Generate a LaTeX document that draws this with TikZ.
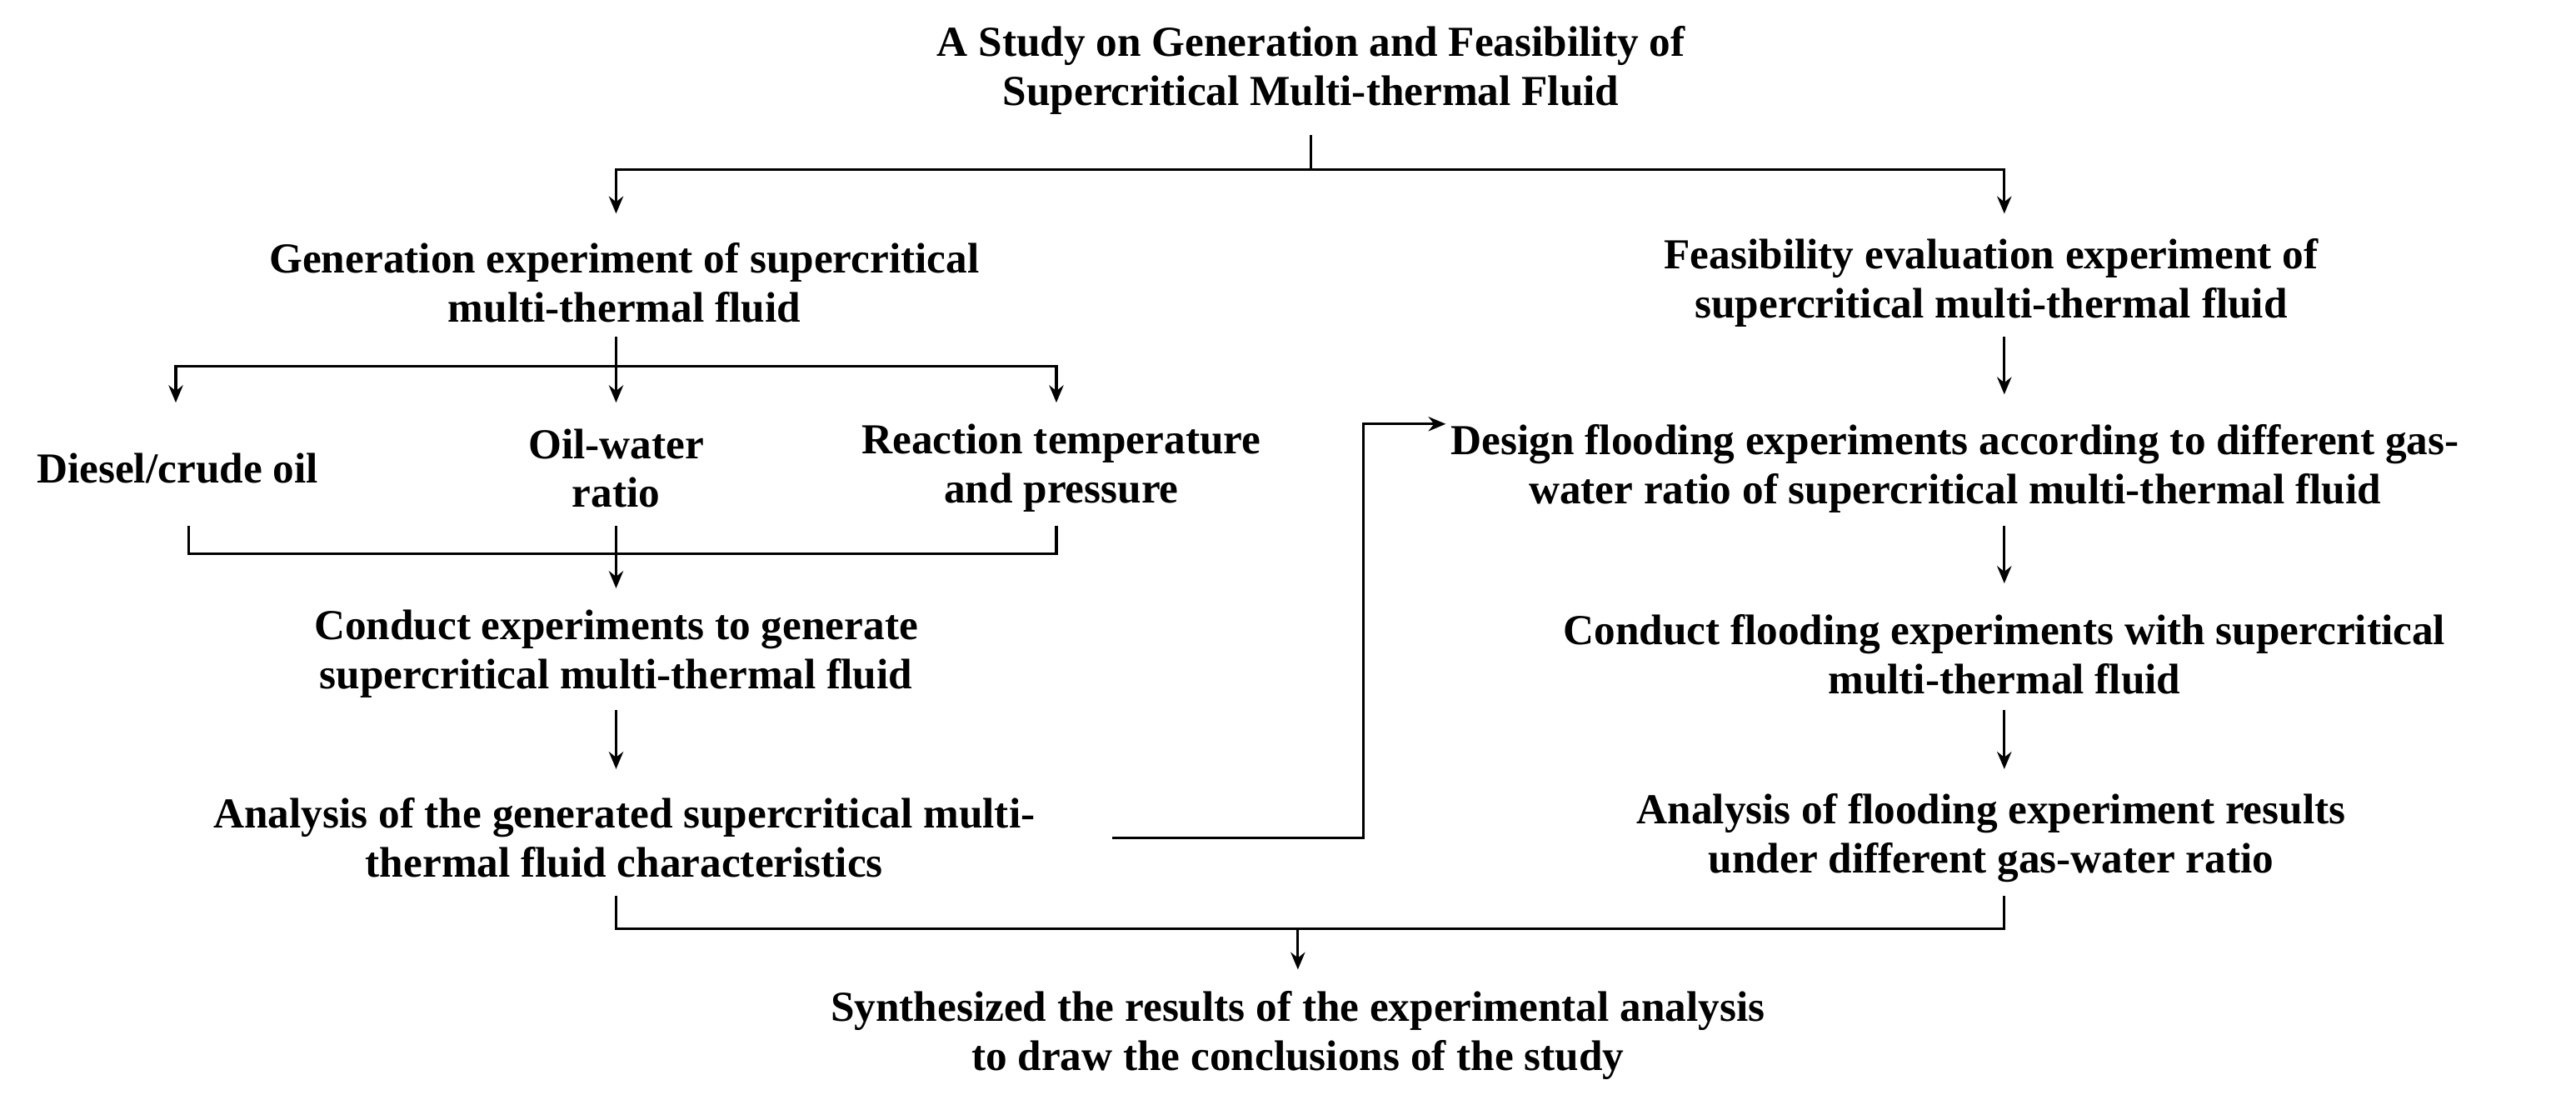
\documentclass[tikz,border=0pt]{standalone}
\usepackage{fontspec}
\setmainfont{Liberation Serif}
\usetikzlibrary{arrows.meta}
\begin{document}
\begin{tikzpicture}[x=0.02cm,y=-0.02cm,
  txt/.style={align=center,font=\bfseries\fontsize{14.8}{17}\selectfont,inner sep=0pt},
  ln/.style={line width=0.9pt},
  ar/.style={ln,-{Stealth[length=6pt,width=5pt]}}]
\useasboundingbox (0,0) rectangle (1568,675);
\node[txt] (title) at (798,43) {A Study on Generation and Feasibility of\\Supercritical Multi-thermal Fluid};
\node[txt] (gen) at (380,172) {Generation experiment of supercritical\\multi-thermal fluid};
\node[txt] (fea) at (1212,172) {Feasibility evaluation experiment of\\supercritical multi-thermal fluid};
\node[txt] (dies) at (108,285) {Diesel/crude oil};
\node[txt] (oil) at (375,285) {Oil-water\\ratio};
\node[txt] (reac) at (646,285) {Reaction temperature\\and pressure};
\node[txt] (cond) at (375,398) {Conduct experiments to generate\\supercritical multi-thermal fluid};
\node[txt] (ana) at (380,510) {Analysis of the generated supercritical multi-\\thermal fluid characteristics};
\node[txt] (des) at (1190,285) {Design flooding experiments according to different gas-\\water ratio of supercritical multi-thermal fluid};
\node[txt] (cfl) at (1220,398) {Conduct flooding experiments with supercritical\\multi-thermal fluid};
\node[txt] (afl) at (1212,510) {Analysis of flooding experiment results\\under different gas-water ratio};
\node[txt] (syn) at (790,630) {Synthesized the results of the experimental analysis\\to draw the conclusions of the study};
% title split
\draw[ln] (798,82) -- (798,103) coordinate (t0);
\draw[ar] (t0) -| (375,130);
\draw[ar] (t0) -| (1220,130);
% gen split
\draw[ln] (375,205) -- (375,223) coordinate (g0);
\draw[ar] (375,205) -- (375,245);
\draw[ar] (g0) -| (107,245);
\draw[ar] (g0) -| (643,245);
% bracket
\draw[ln] (115,320) |- (643,337) -- (643,320);
\draw[ar] (375,320) -- (375,358);
\draw[ar] (375,432) -- (375,468);
% analysis to design
\draw[ar] (677,510) -- (830,510) |- (880,258);
% right chain
\draw[ar] (1220,205) -- (1220,240);
\draw[ar] (1220,320) -- (1220,355);
\draw[ar] (1220,432) -- (1220,468);
% bottom merge
\draw[ln] (375,545) |- (1220,565) -- (1220,545);
\draw[ar] (790,565) -- (790,590);
\end{tikzpicture}
\end{document}
